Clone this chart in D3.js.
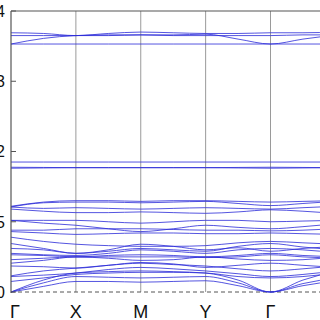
<!DOCTYPE html>
<html>
<head>
<meta charset="utf-8">
<script src="https://cdn.jsdelivr.net/npm/d3@7"></script>
<style>
  body { margin: 0; background: #fff; }
  svg { display: block; font-family: "Liberation Sans", Arial, sans-serif; }
</style>
</head>
<body>
<div id="chart"></div>
<script>
// high symmetry path (k-path index) and labels
const kPoints = [0, 0.5, 1, 1.5, 2, 2.5, 3, 3.5, 4, 4.5, 5];
const kLabels = ["Γ", "X", "M", "Y", "Γ"];
const yTicks = [0, 1, 2, 3, 4];
const yTickLabels = ["0", "5", "2", "3", "4"];

// band energies, one value per kPoint
const topBands = [
  [3.69, 3.68, 3.65, 3.68, 3.70, 3.69, 3.68, 3.68, 3.69, 3.69, 3.70],
  [3.65, 3.65, 3.65, 3.65, 3.66, 3.65, 3.65, 3.65, 3.65, 3.66, 3.66],
  [3.53, 3.61, 3.65, 3.66, 3.66, 3.66, 3.67, 3.60, 3.53, 3.60, 3.66],
  [3.53, 3.53, 3.53, 3.53, 3.53, 3.53, 3.53, 3.53, 3.53, 3.53, 3.53]
];
const midBands = [
  [1.85, 1.85, 1.85, 1.85, 1.85, 1.85, 1.85, 1.85, 1.85, 1.85, 1.85],
  [1.776, 1.773, 1.77, 1.77, 1.77, 1.77, 1.77, 1.773, 1.776, 1.773, 1.77],
  [1.762, 1.766, 1.77, 1.77, 1.77, 1.77, 1.77, 1.766, 1.762, 1.766, 1.77]
];
const lowBands = [
  [0, 0.08, 0.15, 0.15, 0.14, 0.15, 0.16, 0.09, 0, 0.09, 0.16],
  [0, 0.13, 0.22, 0.21, 0.20, 0.21, 0.22, 0.13, 0, 0.12, 0.20],
  [0, 0.17, 0.27, 0.29, 0.30, 0.29, 0.27, 0.17, 0, 0.17, 0.30],
  [0.15, 0.20, 0.25, 0.27, 0.28, 0.28, 0.27, 0.22, 0.20, 0.22, 0.27],
  [0.22, 0.24, 0.27, 0.32, 0.35, 0.33, 0.30, 0.26, 0.22, 0.25, 0.30],
  [0.23, 0.30, 0.34, 0.38, 0.41, 0.39, 0.37, 0.33, 0.30, 0.33, 0.37],
  [0.37, 0.36, 0.34, 0.38, 0.42, 0.40, 0.35, 0.38, 0.41, 0.38, 0.35],
  [0.41, 0.45, 0.50, 0.48, 0.45, 0.46, 0.50, 0.47, 0.45, 0.46, 0.50],
  [0.46, 0.48, 0.50, 0.50, 0.50, 0.50, 0.49, 0.50, 0.53, 0.50, 0.48],
  [0.53, 0.52, 0.50, 0.52, 0.53, 0.52, 0.50, 0.52, 0.55, 0.52, 0.50],
  [0.55, 0.53, 0.52, 0.55, 0.60, 0.58, 0.55, 0.60, 0.62, 0.60, 0.56],
  [0.62, 0.60, 0.55, 0.58, 0.62, 0.60, 0.58, 0.65, 0.69, 0.64, 0.60],
  [0.69, 0.62, 0.55, 0.60, 0.68, 0.65, 0.60, 0.63, 0.58, 0.62, 0.65],
  [0.78, 0.72, 0.68, 0.66, 0.65, 0.65, 0.66, 0.70, 0.72, 0.70, 0.68],
  [0.86, 0.84, 0.82, 0.83, 0.84, 0.84, 0.83, 0.83, 0.84, 0.83, 0.82],
  [0.88, 0.88, 0.90, 0.90, 0.90, 0.89, 0.88, 0.88, 0.87, 0.88, 0.90],
  [1.02, 0.98, 0.95, 0.90, 0.86, 0.90, 0.95, 0.92, 0.90, 0.93, 0.97],
  [1.02, 1.02, 1.02, 1.00, 0.98, 1.00, 1.02, 1.02, 1.00, 1.01, 1.02],
  [1.18, 1.15, 1.13, 1.13, 1.14, 1.13, 1.12, 1.14, 1.17, 1.15, 1.12],
  [1.21, 1.19, 1.20, 1.19, 1.18, 1.19, 1.20, 1.19, 1.18, 1.20, 1.22],
  [1.21, 1.27, 1.28, 1.28, 1.27, 1.28, 1.29, 1.26, 1.23, 1.26, 1.29],
  [1.22, 1.28, 1.30, 1.30, 1.29, 1.30, 1.30, 1.29, 1.28, 1.29, 1.30]
];

const W = 320, H = 320;
const padLeft = 11, padTop = 11, baseY = 292;

const svg = d3.select("#chart").append("svg")
  .attr("width", W).attr("height", H);

const x = d3.scaleLinear().domain([0, 4]).range([padLeft, 270.5]);
const y = d3.scaleLinear().domain([0, 4]).range([baseY, padTop]);

svg.append("clipPath").attr("id", "plot")
  .append("rect").attr("x", padLeft).attr("y", padTop)
  .attr("width", W - padLeft).attr("height", baseY - padTop + 2);

// vertical lines at high symmetry points
svg.append("g").selectAll("line")
  .data(d3.range(1, 5))
  .enter().append("line")
  .attr("x1", d => x(d)).attr("x2", d => x(d))
  .attr("y1", padTop).attr("y2", baseY)
  .attr("stroke", "#9a9a9a").attr("stroke-width", 1);

// zero line
svg.append("line")
  .attr("x1", padLeft).attr("x2", W)
  .attr("y1", y(0)).attr("y2", y(0))
  .attr("stroke", "#555").attr("stroke-width", 1)
  .attr("stroke-dasharray", "4,3");

// bands
let line = d3.line()
  .x((d, i) => x(kPoints[i]))
  .y(d => y(d))
  .curve(d3.curveMonotoneX);

const allBands = topBands.concat(midBands, lowBands);
svg.append("g").attr("clip-path", "url(#plot)")
  .selectAll("path")
  .data(allBands)
  .enter().append("path")
  .attr("d", line)
  .attr("fill", "none")
  .attr("stroke", "#2a2ad8")
  .attr("stroke-opacity", 0.8)
  .attr("stroke-width", 1);

// frame: left and top
svg.append("line")
  .attr("x1", padLeft).attr("x2", padLeft).attr("y1", padTop).attr("y2", baseY + 1)
  .attr("stroke", "#555").attr("stroke-width", 1.2);
svg.append("line")
  .attr("x1", padLeft).attr("x2", W).attr("y1", padTop).attr("y2", padTop)
  .attr("stroke", "#555").attr("stroke-width", 1.2);

// y ticks (inward) and labels
svg.append("g").selectAll("line")
  .data(yTicks)
  .enter().append("line")
  .attr("x1", padLeft).attr("x2", padLeft + 5)
  .attr("y1", d => y(d)).attr("y2", d => y(d))
  .attr("stroke", "#555").attr("stroke-width", 1);

svg.append("g").selectAll("text")
  .data(yTicks)
  .enter().append("text")
  .attr("x", 5)
  .attr("y", d => y(d))
  .attr("dy", "0.36em")
  .attr("text-anchor", "end")
  .attr("font-size", 16)
  .attr("fill", "#111")
  .text((d, i) => yTickLabels[i]);

// k-point labels
svg.append("g").selectAll("text")
  .data(kLabels)
  .enter().append("text")
  .attr("x", (d, i) => x(i) + (i === 0 ? 4 : 0))
  .attr("y", 318)
  .attr("text-anchor", "middle")
  .attr("font-size", 18)
  .attr("fill", "#111")
  .text(d => d);
</script>
</body>
</html>
